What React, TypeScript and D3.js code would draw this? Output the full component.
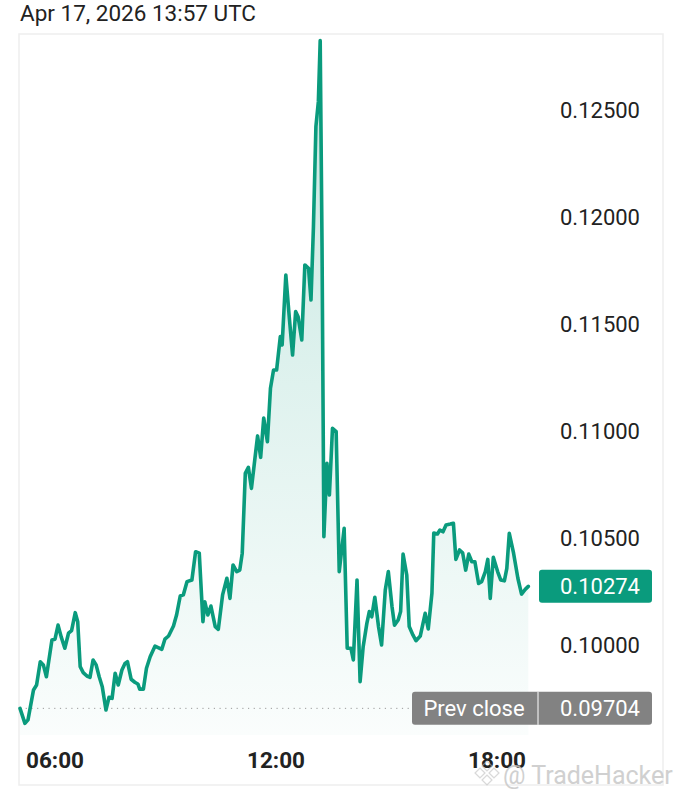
import * as d3 from "d3";

// price series (local time, price)
const times = [
  "05:03", "05:11", "05:16", "05:25", "05:30", "05:36", "05:41", "05:46", "05:55", "06:00",
  "06:05", "06:10", "06:16", "06:22", "06:27", "06:33", "06:37", "06:41", "06:46", "06:52",
  "06:57", "07:02", "07:07", "07:12", "07:17", "07:23", "07:28", "07:33", "07:38", "07:43",
  "07:49", "07:54", "07:58", "08:04", "08:10", "08:15", "08:18", "08:24", "08:29", "08:35",
  "08:43", "08:54", "08:59", "09:05", "09:13", "09:18", "09:24", "09:29", "09:35", "09:43",
  "09:49", "09:55", "10:01", "10:04", "10:09", "10:14", "10:21", "10:26", "10:33", "10:40",
  "10:45", "10:50", "10:56", "11:01", "11:05", "11:10", "11:15", "11:20", "11:26", "11:30",
  "11:35", "11:40", "11:46", "11:51", "11:56", "12:01", "12:07", "12:10", "12:16", "12:22",
  "12:27", "12:32", "12:36", "12:42", "12:47", "12:53", "12:57", "13:01", "13:05", "13:09",
  "13:12", "13:15", "13:18", "13:23", "13:27", "13:32", "13:38", "13:43", "13:51", "13:56",
  "14:02", "14:06", "14:12", "14:17", "14:22", "14:28", "14:32", "14:36", "14:41", "14:47",
  "14:52", "14:58", "15:03", "15:09", "15:13", "15:19", "15:23", "15:27", "15:33", "15:37",
  "15:43", "15:48", "15:55", "16:03", "16:08", "16:14", "16:17", "16:23", "16:27", "16:32",
  "16:37", "16:44", "16:49", "16:53", "16:59", "17:04", "17:09", "17:14", "17:19", "17:24",
  "17:30", "17:35", "17:41", "17:45", "17:49", "17:54", "18:01", "18:06", "18:12", "18:16",
  "18:20", "18:27", "18:34", "18:40", "18:46", "18:51",
];

const prices = [
  0.09704, 0.09634, 0.0965, 0.0979, 0.09813, 0.09922, 0.09907, 0.09852, 0.10023, 0.10027,
  0.10093, 0.10039, 0.09985, 0.10055, 0.10067, 0.10151, 0.10109, 0.09899, 0.09871, 0.09855,
  0.09849, 0.0993, 0.09907, 0.09852, 0.09805, 0.09696, 0.09756, 0.09751, 0.09868, 0.09813,
  0.09883, 0.09914, 0.09922, 0.0984, 0.09826, 0.09818, 0.09794, 0.09794, 0.09891, 0.09945,
  0.09995, 0.0998, 0.10027, 0.10042, 0.10089, 0.1014, 0.10229, 0.10234, 0.10296, 0.10304,
  0.10436, 0.10429, 0.10109, 0.10202, 0.1014, 0.10182, 0.10086, 0.10073, 0.10234, 0.10312,
  0.10218, 0.10374, 0.10343, 0.1035, 0.10429, 0.10802, 0.1083, 0.10732, 0.1088, 0.10977,
  0.10877, 0.11061, 0.1095, 0.112, 0.11285, 0.11285, 0.11441, 0.11402, 0.11729, 0.11519,
  0.11355, 0.11558, 0.11534, 0.11425, 0.11776, 0.1176, 0.11612, 0.11955, 0.12422, 0.12539,
  0.12824, 0.11861, 0.10506, 0.10849, 0.10701, 0.11013, 0.10997, 0.10343, 0.10545, 0.09985,
  0.09985, 0.0993, 0.10304, 0.09829, 0.09992, 0.10101, 0.10156, 0.10132, 0.10223, 0.10086,
  0.1, 0.10257, 0.10343, 0.10179, 0.10093, 0.10117, 0.10156, 0.10425, 0.10327, 0.10086,
  0.10047, 0.1002, 0.10042, 0.10148, 0.10075, 0.10242, 0.10523, 0.10519, 0.10537, 0.10529,
  0.10561, 0.10565, 0.10569, 0.104, 0.10444, 0.10431, 0.1035, 0.10425, 0.10389, 0.10389,
  0.10288, 0.10296, 0.10343, 0.104, 0.10218, 0.1041, 0.10343, 0.10304, 0.103, 0.10358,
  0.10522, 0.10429, 0.10312, 0.10238, 0.1026, 0.10274,
];

const yTicks = [0.1, 0.105, 0.11, 0.115, 0.12, 0.125];
const xTicks = ["06:00", "12:00", "18:00"];
const prevClose = 0.09704;
const lastPrice = 0.10274;
const title = "Apr 17, 2026 13:57 UTC";

const GREEN = "#0a9b7d";
const FONT = "Roboto, 'Noto Sans', sans-serif";

const toMin = (s: string) => {
  const [h, m] = s.split(":").map(Number);
  return h * 60 + m;
};

const data = times.map((t, i) => ({ t: toMin(t), v: prices[i] }));

const x = d3.scaleLinear().domain([360, 720]).range([55, 276]);
const y = d3.scaleLinear().domain([0.1, 0.125]).range([645, 110]);

const line = d3
  .line<{ t: number; v: number }>()
  .x((d) => x(d.t))
  .y((d) => y(d.v));

const area = d3
  .area<{ t: number; v: number }>()
  .x((d) => x(d.t))
  .y0(735)
  .y1((d) => y(d.v));

const fmt = d3.format(".5f");

export default function App() {
  return (
    <svg
      width={682}
      height={801}
      style={{ position: "absolute", left: 0, top: 0, fontFamily: FONT }}
    >
      <defs>
        <linearGradient id="areaGrad" gradientUnits="userSpaceOnUse" x1={0} y1={40} x2={0} y2={735}>
          <stop offset="0%" stopColor={GREEN} stopOpacity={0.24} />
          <stop offset="100%" stopColor={GREEN} stopOpacity={0.02} />
        </linearGradient>
      </defs>
      <rect width={682} height={801} fill="#fff" />
      <text x={20} y={21} fontSize={22.5} fill="#222">
        {title}
      </text>
      <rect x={19} y={34} width={644} height={751} fill="none" stroke="#eeeeee" strokeWidth={1.5} />

      <path d={area(data) ?? ""} fill="url(#areaGrad)" />

      <line
        x1={20}
        x2={412}
        y1={y(prevClose)}
        y2={y(prevClose)}
        stroke="#9a9a9a"
        strokeWidth={1}
        strokeDasharray="1.2 4.5"
      />

      <path
        d={line(data) ?? ""}
        fill="none"
        stroke={GREEN}
        strokeWidth={3.6}
        strokeLinejoin="round"
        strokeLinecap="round"
      />

      {yTicks.map((v) => (
        <text key={v} x={640} y={y(v)} dy="0.36em" textAnchor="end" fontSize={22} fill="#222">
          {fmt(v)}
        </text>
      ))}

      {xTicks.map((t) => (
        <text key={t} x={x(toMin(t))} y={768} textAnchor="middle" fontSize={22.5} fontWeight="bold" fill="#222">
          {t}
        </text>
      ))}

      {/* last price tag */}
      <rect x={539} y={y(lastPrice) - 16.5} width={113} height={33} rx={3} fill={GREEN} />
      <text x={640} y={y(lastPrice)} dy="0.36em" textAnchor="end" fontSize={22} fill="#fff">
        {fmt(lastPrice)}
      </text>

      {/* prev close tag */}
      <rect x={412} y={y(prevClose) - 16.5} width={240} height={33} rx={3} fill="#828282" />
      <line x1={538} x2={538} y1={y(prevClose) - 16.5} y2={y(prevClose) + 16.5} stroke="#fff" strokeWidth={1} />
      <text x={474} y={y(prevClose)} dy="0.36em" textAnchor="middle" fontSize={22} fill="#fff">
        Prev close
      </text>
      <text x={640} y={y(prevClose)} dy="0.36em" textAnchor="end" fontSize={22} fill="#fff">
        {fmt(prevClose)}
      </text>

      {/* watermark */}
      <g opacity={0.55} fill="none" stroke="#bbb" strokeWidth={1.3}>
        {[
          [487, 766],
          [480, 773],
          [494, 773],
          [487, 780],
        ].map(([cx, cy], i) => (
          <rect key={i} x={cx - 3.5} y={cy - 3.5} width={7} height={7} transform={`rotate(45 ${cx} ${cy})`} />
        ))}
      </g>
      <text x={503} y={784} fontSize={25} fill="#c8c8c8" opacity={0.85}>
        @ TradeHacker
      </text>
    </svg>
  );
}
